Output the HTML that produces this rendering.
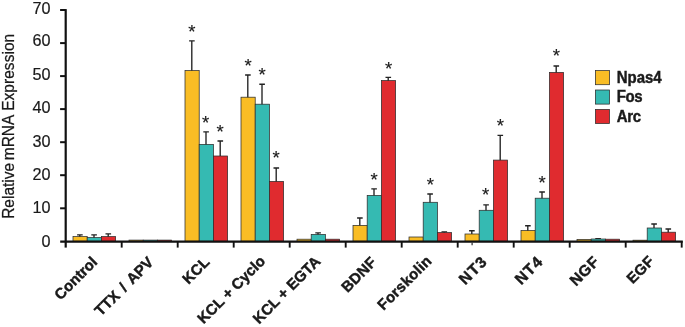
<!DOCTYPE html><html><head><meta charset="utf-8"><title>Relative mRNA Expression</title>
<style>html,body{margin:0;padding:0;background:#fff}svg{display:block}text{font-family:"Liberation Sans",Arial,sans-serif;fill:#1a1a1a}</style></head><body>
<svg width="685" height="327" viewBox="0 0 685 327">
<rect width="685" height="327" fill="#fff"/>
<path d="M79.8 237.6V234.8M77.1 234.8H82.7" stroke="#222" stroke-width="1.35" fill="none"/>
<rect x="73.0" y="236.6" width="14.2" height="4.7" fill="#F9BD25" stroke="#2e2e2e" stroke-width="0.75"/>
<path d="M94.0 238.6V234.8M91.3 234.8H96.9" stroke="#222" stroke-width="1.35" fill="none"/>
<rect x="87.2" y="237.6" width="14.2" height="3.7" fill="#35BAB2" stroke="#2e2e2e" stroke-width="0.75"/>
<path d="M108.2 237.6V233.8M105.5 233.8H111.1" stroke="#222" stroke-width="1.35" fill="none"/>
<rect x="101.4" y="236.6" width="14.2" height="4.7" fill="#E02B2F" stroke="#2e2e2e" stroke-width="0.75"/>
<rect x="129.0" y="240.1" width="14.2" height="1.2" fill="#F9BD25" stroke="#2e2e2e" stroke-width="0.75"/>
<rect x="143.2" y="240.1" width="14.2" height="1.2" fill="#35BAB2" stroke="#2e2e2e" stroke-width="0.75"/>
<rect x="157.4" y="240.1" width="14.2" height="1.2" fill="#E02B2F" stroke="#2e2e2e" stroke-width="0.75"/>
<path d="M191.8 71.6V40.8M189.1 40.8H194.7" stroke="#222" stroke-width="1.35" fill="none"/>
<rect x="185.0" y="70.6" width="14.2" height="170.7" fill="#F9BD25" stroke="#2e2e2e" stroke-width="0.75"/>
<text x="191.8" y="38.0" font-size="18.6" text-anchor="middle" stroke="#1a1a1a" stroke-width="0.15">*</text>
<path d="M206.0 145.4V131.8M203.3 131.8H208.9" stroke="#222" stroke-width="1.35" fill="none"/>
<rect x="199.2" y="144.4" width="14.2" height="96.9" fill="#35BAB2" stroke="#2e2e2e" stroke-width="0.75"/>
<text x="205.6" y="128.9" font-size="18.6" text-anchor="middle" stroke="#1a1a1a" stroke-width="0.15">*</text>
<path d="M220.2 157.0V141.0M217.5 141.0H223.1" stroke="#222" stroke-width="1.35" fill="none"/>
<rect x="213.4" y="156.0" width="14.2" height="85.3" fill="#E02B2F" stroke="#2e2e2e" stroke-width="0.75"/>
<text x="220.0" y="137.9" font-size="18.6" text-anchor="middle" stroke="#1a1a1a" stroke-width="0.15">*</text>
<path d="M247.8 98.2V75.0M245.1 75.0H250.7" stroke="#222" stroke-width="1.35" fill="none"/>
<rect x="241.0" y="97.2" width="14.2" height="144.1" fill="#F9BD25" stroke="#2e2e2e" stroke-width="0.75"/>
<text x="248.0" y="71.5" font-size="18.6" text-anchor="middle" stroke="#1a1a1a" stroke-width="0.15">*</text>
<path d="M262.0 105.2V84.2M259.3 84.2H264.9" stroke="#222" stroke-width="1.35" fill="none"/>
<rect x="255.2" y="104.2" width="14.2" height="137.1" fill="#35BAB2" stroke="#2e2e2e" stroke-width="0.75"/>
<text x="262.1" y="80.9" font-size="18.6" text-anchor="middle" stroke="#1a1a1a" stroke-width="0.15">*</text>
<path d="M276.2 182.4V168.0M273.5 168.0H279.1" stroke="#222" stroke-width="1.35" fill="none"/>
<rect x="269.4" y="181.4" width="14.2" height="59.9" fill="#E02B2F" stroke="#2e2e2e" stroke-width="0.75"/>
<text x="276.0" y="164.4" font-size="18.6" text-anchor="middle" stroke="#1a1a1a" stroke-width="0.15">*</text>
<rect x="297.0" y="239.2" width="14.2" height="2.1" fill="#F9BD25" stroke="#2e2e2e" stroke-width="0.75"/>
<path d="M318.0 235.4V232.8M315.3 232.8H320.9" stroke="#222" stroke-width="1.35" fill="none"/>
<rect x="311.2" y="234.4" width="14.2" height="6.9" fill="#35BAB2" stroke="#2e2e2e" stroke-width="0.75"/>
<rect x="325.4" y="239.2" width="14.2" height="2.1" fill="#E02B2F" stroke="#2e2e2e" stroke-width="0.75"/>
<path d="M359.8 226.4V218.0M357.1 218.0H362.7" stroke="#222" stroke-width="1.35" fill="none"/>
<rect x="353.0" y="225.4" width="14.2" height="15.9" fill="#F9BD25" stroke="#2e2e2e" stroke-width="0.75"/>
<path d="M374.0 196.4V188.8M371.3 188.8H376.9" stroke="#222" stroke-width="1.35" fill="none"/>
<rect x="367.2" y="195.4" width="14.2" height="45.9" fill="#35BAB2" stroke="#2e2e2e" stroke-width="0.75"/>
<text x="374.0" y="185.5" font-size="18.6" text-anchor="middle" stroke="#1a1a1a" stroke-width="0.15">*</text>
<path d="M388.2 81.6V77.4M385.5 77.4H391.1" stroke="#222" stroke-width="1.35" fill="none"/>
<rect x="381.4" y="80.6" width="14.2" height="160.7" fill="#E02B2F" stroke="#2e2e2e" stroke-width="0.75"/>
<text x="388.5" y="75.2" font-size="18.6" text-anchor="middle" stroke="#1a1a1a" stroke-width="0.15">*</text>
<rect x="409.0" y="237.0" width="14.2" height="4.3" fill="#F9BD25" stroke="#2e2e2e" stroke-width="0.75"/>
<path d="M430.0 203.3V194.0M427.3 194.0H432.9" stroke="#222" stroke-width="1.35" fill="none"/>
<rect x="423.2" y="202.3" width="14.2" height="39.0" fill="#35BAB2" stroke="#2e2e2e" stroke-width="0.75"/>
<text x="430.4" y="191.0" font-size="18.6" text-anchor="middle" stroke="#1a1a1a" stroke-width="0.15">*</text>
<path d="M444.2 233.6V231.8M441.5 231.8H447.1" stroke="#222" stroke-width="1.35" fill="none"/>
<rect x="437.4" y="232.6" width="14.2" height="8.7" fill="#E02B2F" stroke="#2e2e2e" stroke-width="0.75"/>
<path d="M471.8 235.0V230.7M469.1 230.7H474.7" stroke="#222" stroke-width="1.35" fill="none"/>
<rect x="465.0" y="234.0" width="14.2" height="7.3" fill="#F9BD25" stroke="#2e2e2e" stroke-width="0.75"/>
<path d="M486.0 211.3V204.9M483.3 204.9H488.9" stroke="#222" stroke-width="1.35" fill="none"/>
<rect x="479.2" y="210.3" width="14.2" height="31.0" fill="#35BAB2" stroke="#2e2e2e" stroke-width="0.75"/>
<text x="485.6" y="201.0" font-size="18.6" text-anchor="middle" stroke="#1a1a1a" stroke-width="0.15">*</text>
<path d="M500.2 161.1V135.4M497.5 135.4H503.1" stroke="#222" stroke-width="1.35" fill="none"/>
<rect x="493.4" y="160.1" width="14.2" height="81.2" fill="#E02B2F" stroke="#2e2e2e" stroke-width="0.75"/>
<text x="500.4" y="131.7" font-size="18.6" text-anchor="middle" stroke="#1a1a1a" stroke-width="0.15">*</text>
<path d="M527.8 231.6V225.7M525.1 225.7H530.7" stroke="#222" stroke-width="1.35" fill="none"/>
<rect x="521.0" y="230.6" width="14.2" height="10.7" fill="#F9BD25" stroke="#2e2e2e" stroke-width="0.75"/>
<path d="M542.0 199.2V192.0M539.3 192.0H544.9" stroke="#222" stroke-width="1.35" fill="none"/>
<rect x="535.2" y="198.2" width="14.2" height="43.1" fill="#35BAB2" stroke="#2e2e2e" stroke-width="0.75"/>
<text x="542.0" y="189.0" font-size="18.6" text-anchor="middle" stroke="#1a1a1a" stroke-width="0.15">*</text>
<path d="M556.2 73.4V66.0M553.5 66.0H559.1" stroke="#222" stroke-width="1.35" fill="none"/>
<rect x="549.4" y="72.4" width="14.2" height="168.9" fill="#E02B2F" stroke="#2e2e2e" stroke-width="0.75"/>
<text x="556.4" y="62.2" font-size="18.6" text-anchor="middle" stroke="#1a1a1a" stroke-width="0.15">*</text>
<rect x="577.0" y="239.4" width="14.2" height="1.9" fill="#F9BD25" stroke="#2e2e2e" stroke-width="0.75"/>
<path d="M598.0 240.0V238.6M595.3 238.6H600.9" stroke="#222" stroke-width="1.35" fill="none"/>
<rect x="591.2" y="239.0" width="14.2" height="2.3" fill="#35BAB2" stroke="#2e2e2e" stroke-width="0.75"/>
<rect x="605.4" y="239.2" width="14.2" height="2.1" fill="#E02B2F" stroke="#2e2e2e" stroke-width="0.75"/>
<rect x="633.0" y="240.2" width="14.2" height="1.1" fill="#F9BD25" stroke="#2e2e2e" stroke-width="0.75"/>
<path d="M654.0 229.0V224.0M651.3 224.0H656.9" stroke="#222" stroke-width="1.35" fill="none"/>
<rect x="647.2" y="228.0" width="14.2" height="13.3" fill="#35BAB2" stroke="#2e2e2e" stroke-width="0.75"/>
<path d="M668.2 233.2V229.0M665.5 229.0H671.1" stroke="#222" stroke-width="1.35" fill="none"/>
<rect x="661.4" y="232.2" width="14.2" height="9.1" fill="#E02B2F" stroke="#2e2e2e" stroke-width="0.75"/>
<path d="M65.7 9.1V247.6" stroke="#111" stroke-width="2.2" fill="none"/>
<path d="M60.2 241.7H682.8" stroke="#111" stroke-width="2.2" fill="none"/>
<text x="50.6" y="247.1" font-size="16.2" text-anchor="end" stroke="#1a1a1a" stroke-width="0.2">0</text>
<path d="M60.1 208.3H65.7" stroke="#111" stroke-width="2" fill="none"/>
<text x="50.6" y="213.4" font-size="16.2" text-anchor="end" stroke="#1a1a1a" stroke-width="0.2">10</text>
<path d="M60.1 175.2H65.7" stroke="#111" stroke-width="2" fill="none"/>
<text x="50.6" y="180.0" font-size="16.2" text-anchor="end" stroke="#1a1a1a" stroke-width="0.2">20</text>
<path d="M60.1 142.2H65.7" stroke="#111" stroke-width="2" fill="none"/>
<text x="50.6" y="146.5" font-size="16.2" text-anchor="end" stroke="#1a1a1a" stroke-width="0.2">30</text>
<path d="M60.1 109.1H65.7" stroke="#111" stroke-width="2" fill="none"/>
<text x="50.6" y="113.0" font-size="16.2" text-anchor="end" stroke="#1a1a1a" stroke-width="0.2">40</text>
<path d="M60.1 76.1H65.7" stroke="#111" stroke-width="2" fill="none"/>
<text x="50.6" y="79.6" font-size="16.2" text-anchor="end" stroke="#1a1a1a" stroke-width="0.2">50</text>
<path d="M60.1 43.1H65.7" stroke="#111" stroke-width="2" fill="none"/>
<text x="50.6" y="46.0" font-size="16.2" text-anchor="end" stroke="#1a1a1a" stroke-width="0.2">60</text>
<path d="M60.1 10.0H65.7" stroke="#111" stroke-width="2" fill="none"/>
<text x="50.6" y="14.2" font-size="16.2" text-anchor="end" stroke="#1a1a1a" stroke-width="0.2">70</text>
<path d="M121.7 241.3V247.6" stroke="#111" stroke-width="1.9" fill="none"/>
<path d="M177.7 241.3V247.6" stroke="#111" stroke-width="1.9" fill="none"/>
<path d="M233.7 241.3V247.6" stroke="#111" stroke-width="1.9" fill="none"/>
<path d="M289.7 241.3V247.6" stroke="#111" stroke-width="1.9" fill="none"/>
<path d="M345.7 241.3V247.6" stroke="#111" stroke-width="1.9" fill="none"/>
<path d="M401.7 241.3V247.6" stroke="#111" stroke-width="1.9" fill="none"/>
<path d="M457.7 241.3V247.6" stroke="#111" stroke-width="1.9" fill="none"/>
<path d="M513.7 241.3V247.6" stroke="#111" stroke-width="1.9" fill="none"/>
<path d="M569.7 241.3V247.6" stroke="#111" stroke-width="1.9" fill="none"/>
<path d="M625.7 241.3V247.6" stroke="#111" stroke-width="1.9" fill="none"/>
<path d="M681.7 241.3V247.6" stroke="#111" stroke-width="1.9" fill="none"/>
<path d="M472.1 242.6V245.2" stroke="#2b2b2b" stroke-width="1.2" fill="none"/>
<text transform="translate(98.3 263.0) rotate(-45)" font-size="15" font-weight="bold" text-anchor="end" stroke="#1a1a1a" stroke-width="0.45">Control</text>
<text transform="translate(154.3 263.3) rotate(-45)" font-size="15" font-weight="bold" text-anchor="end" stroke="#1a1a1a" stroke-width="0.45" word-spacing="2.3">TTX / APV</text>
<text transform="translate(210.4 263.1) rotate(-45)" font-size="15" font-weight="bold" text-anchor="end" stroke="#1a1a1a" stroke-width="0.45">KCL</text>
<text transform="translate(266.2 262.0) rotate(-45)" font-size="15" font-weight="bold" text-anchor="end" stroke="#1a1a1a" stroke-width="0.45">KCL + Cyclo</text>
<text transform="translate(321.4 262.3) rotate(-45)" font-size="15" font-weight="bold" text-anchor="end" stroke="#1a1a1a" stroke-width="0.45">KCL + EGTA</text>
<text transform="translate(377.5 263.2) rotate(-45)" font-size="15" font-weight="bold" text-anchor="end" stroke="#1a1a1a" stroke-width="0.45" letter-spacing="0.2">BDNF</text>
<text transform="translate(432.7 261.8) rotate(-45)" font-size="15" font-weight="bold" text-anchor="end" stroke="#1a1a1a" stroke-width="0.45" letter-spacing="0.22">Forskolin</text>
<text transform="translate(488.3 262.5) rotate(-45)" font-size="15.6" font-weight="bold" text-anchor="end" stroke="#1a1a1a" stroke-width="0.45" letter-spacing="1.0">NT3</text>
<text transform="translate(544.1 262.5) rotate(-45)" font-size="15.6" font-weight="bold" text-anchor="end" stroke="#1a1a1a" stroke-width="0.45" letter-spacing="1.0">NT4</text>
<text transform="translate(600.3 262.5) rotate(-45)" font-size="15.4" font-weight="bold" text-anchor="end" stroke="#1a1a1a" stroke-width="0.45" letter-spacing="0.6">NGF</text>
<text transform="translate(655.2 262.1) rotate(-45)" font-size="15" font-weight="bold" text-anchor="end" stroke="#1a1a1a" stroke-width="0.45" letter-spacing="0.3">EGF</text>
<text transform="translate(13.7 218.8) rotate(-90) scale(1 1.1)" font-size="15.5" stroke="#1a1a1a" stroke-width="0.25" textLength="55.9" lengthAdjust="spacing">Relative</text>
<text transform="translate(13.7 160.2) rotate(-90) scale(1 1.1)" font-size="15.5" stroke="#1a1a1a" stroke-width="0.25" textLength="45.5" lengthAdjust="spacing">mRNA</text>
<text transform="translate(13.7 110.8) rotate(-90) scale(1 1.1)" font-size="15.5" stroke="#1a1a1a" stroke-width="0.25" textLength="77.0" lengthAdjust="spacing">Expression</text>
<rect x="595.4" y="70.6" width="14.1" height="14.1" fill="#F9BD25" stroke="#2e2e2e" stroke-width="0.75"/>
<text transform="translate(616.8 82.7) scale(1 1.06)" font-size="15" font-weight="bold" letter-spacing="-0.05" stroke="#1a1a1a" stroke-width="0.4">Npas4</text>
<rect x="595.4" y="90.0" width="14.1" height="14.1" fill="#35BAB2" stroke="#2e2e2e" stroke-width="0.75"/>
<text transform="translate(616.8 102.1) scale(1 1.06)" font-size="15" font-weight="bold" letter-spacing="-0.45" stroke="#1a1a1a" stroke-width="0.4">Fos</text>
<rect x="595.4" y="109.4" width="14.1" height="14.1" fill="#E02B2F" stroke="#2e2e2e" stroke-width="0.75"/>
<text transform="translate(616.8 121.5) scale(1 1.06)" font-size="15" font-weight="bold" letter-spacing="-0.4" stroke="#1a1a1a" stroke-width="0.4">Arc</text>
</svg></body></html>
